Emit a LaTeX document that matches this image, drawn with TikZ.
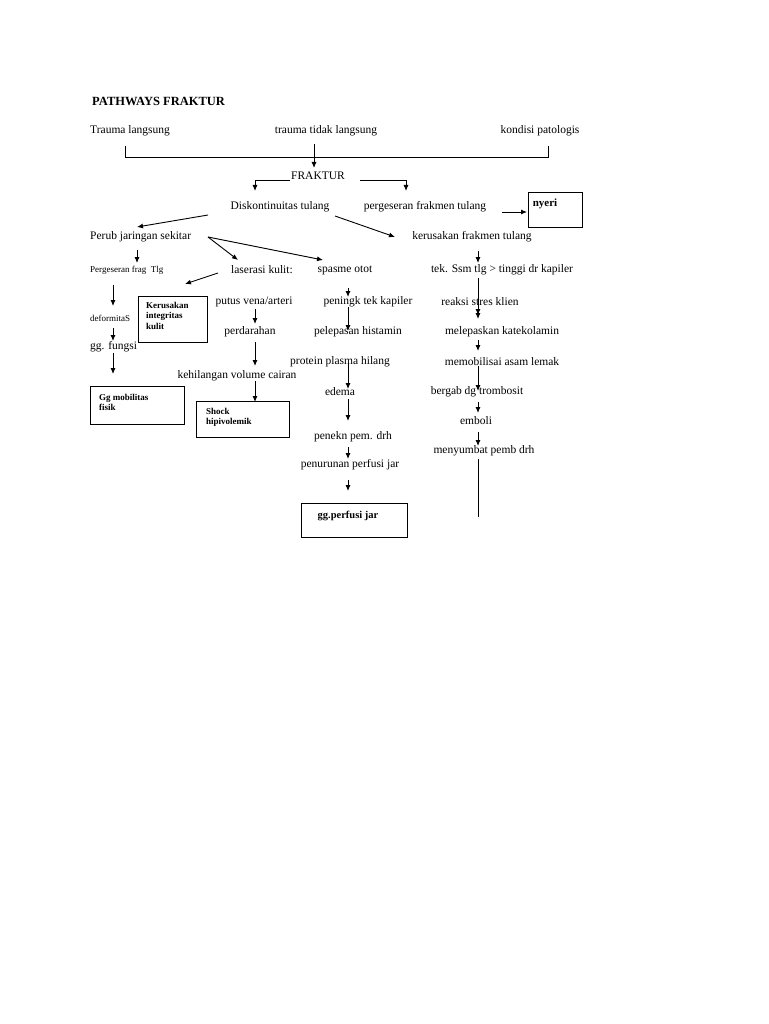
\documentclass[tikz,border=0pt]{standalone}
\usepackage{fontspec}
\setmainfont{Liberation Serif}
\usetikzlibrary{arrows.meta}
\begin{document}
\begin{tikzpicture}[x=1pt,y=-1pt,
  t/.style={inner sep=0pt,font=\fontsize{11.5}{13}\selectfont},
  ts/.style={inner sep=0pt,font=\fontsize{9}{11}\selectfont},
  bx/.style={draw,line width=0.8pt},
  bt/.style={inner sep=0pt,font=\bfseries\fontsize{9}{10.5}\selectfont,align=left},
  ar/.style={line width=0.9pt,-{Latex[length=6pt,width=5pt]}},
  ln/.style={line width=0.9pt}]
\fill[white] (0,0) rectangle (768,1024);
\node[inner sep=0pt,anchor=west,font=\bfseries\fontsize{12.5}{14}\selectfont] (title) at (92,101) {PATHWAYS FRAKTUR};
\node[t,anchor=west] (tl) at (90,131) {Trauma langsung};
\node[t] (ttl) at (326,131) {trauma tidak langsung};
\node[t] (kp) at (540,131) {kondisi patologis};
\draw[ln] (125,146) -- (125,157) -- (548,157) -- (548,146);
\draw[ar] (314,144) -- (314,168);
\node[t] (fr) at (318,176) {FRAKTUR};
\draw[ar] (290,180) -- (255,180) -- (255,191);
\draw[ar] (360,180) -- (406,180) -- (406,191);
\node[t] (dk) at (280,207) {Diskontinuitas tulang};
\node[t] (pf) at (425,207) {pergeseran frakmen tulang};
\draw[bx] (528,192) rectangle (582,227);
\node[inner sep=0pt,font=\bfseries\fontsize{11}{13}\selectfont] (ny) at (545,204) {nyeri};
\draw[ar] (502,212) -- (527,212);
\draw[ar] (208,215) -- (137,227);
\draw[ar] (335,216) -- (395,237);
\node[t,anchor=west] (pj) at (90,237) {Perub jaringan sekitar};
\node[t] (kf) at (472,237) {kerusakan frakmen tulang};
\draw[ar] (208,237) -- (238,260);
\draw[ar] (208,237) -- (323,260);
\draw[ar] (137,250) -- (137,263);
\node[ts,anchor=west] (pg) at (90,270) {Pergeseran frag\ \ Tlg};
\node[t] (lk) at (262,270) {laserasi kulit:};
\node[t] (so) at (345,270) {spasme otot};
\node[t] (ts) at (502,270) {tek. Ssm tlg > tinggi dr kapiler};
\draw[ar] (218,273) -- (185,284);
\draw[ar] (478,251) -- (478,263);
\draw[ar] (113,285) -- (113,306);
\node[ts,anchor=west] (df) at (90,318) {deformitaS};
\draw[ar] (113,328) -- (113,341);
\node[t,anchor=west] (gf) at (90,347) {gg. fungsi};
\draw[ar] (113,353) -- (113,374);
\draw[bx] (138,296) rectangle (207,342);
\node[bt,anchor=north west] (ki) at (146,302) {Kerusakan\\integritas\\kulit};
\node[t] (pv) at (254,302) {putus vena/arteri};
\node[t] (pt) at (368,302) {peningk tek kapiler};
\node[t] (rs) at (480,302) {reaksi stres klien};
\draw[ar] (255,309) -- (255,324);
\draw[ar] (348,288) -- (348,297);
\draw[ar] (348,307) -- (348,331);
\draw[ar] (478,278) -- (478,315);
\draw[ar] (478,311) -- (478,319);
\node[t] (pd) at (250,332) {perdarahan};
\node[t] (ph) at (358,332) {pelepasan histamin};
\node[t] (mk) at (502,332) {melepaskan katekolamin};
\draw[ar] (255,342) -- (255,366);
\draw[ar] (478,340) -- (478,351);
\node[t] (pp) at (340,362) {protein plasma hilang};
\node[t] (ma) at (502,362) {memobilisai asam lemak};
\node[t] (kv) at (237,376) {kehilangan volume cairan};
\draw[ar] (348,364) -- (348,389);
\draw[ar] (478,366) -- (478,391);
\draw[bx] (90,386) rectangle (184,424);
\node[bt,anchor=north west] (gm) at (99,394) {Gg mobilitas\\fisik};
\draw[bx] (196,401) rectangle (289,437);
\node[bt,anchor=north west] (sh) at (206,408) {Shock\\hipivolemik};
\draw[ar] (255,381) -- (255,402);
\node[t] (ed) at (340,392) {edema};
\node[t] (bt) at (477,392) {bergab dg trombosit};
\draw[ar] (348,399) -- (348,421);
\draw[ar] (478,402) -- (478,413);
\node[t] (em) at (476,421) {emboli};
\draw[ar] (478,432) -- (478,446);
\node[t] (pk) at (353,437) {penekn pem. drh};
\node[t] (ms) at (484,451) {menyumbat pemb drh};
\draw[ar] (348,447) -- (348,459);
\node[t] (pr) at (350,465) {penurunan perfusi jar};
\draw[ar] (348,480) -- (348,491);
\draw[bx] (301,503) rectangle (407,537);
\node[inner sep=0pt,font=\bfseries\fontsize{10.5}{12}\selectfont] (gp) at (348,516) {gg.perfusi jar};
\draw[ln] (478,459) -- (478,517);
\end{tikzpicture}
\end{document}
